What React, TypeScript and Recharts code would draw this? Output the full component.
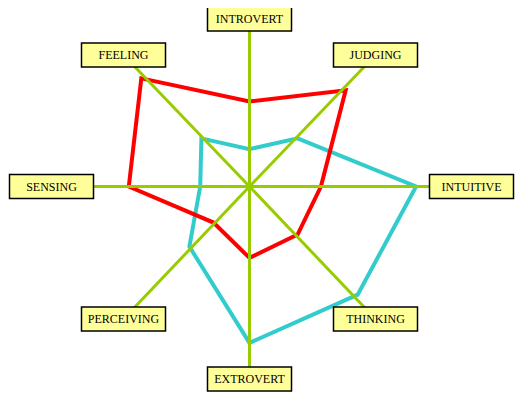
import React from 'react';
import { RadarChart, Radar, PolarAngleAxis, PolarRadiusAxis } from 'recharts';

const traits = ['INTROVERT', 'JUDGING', 'INTUITIVE', 'THINKING', 'EXTROVERT', 'PERCEIVING', 'SENSING', 'FEELING'];
const redScores = [5, 8, 4.2, 4, 4.2, 3, 7.1, 9];
const cyanScores = [2.2, 4, 9.8, 9, 9.2, 5, 2.9, 4];

const data = traits.map((t, i) => ({ trait: t, red: redScores[i], cyan: cyanScores[i] }));

const GREEN = '#99CC00';

// label box placed around the axis end, the green spoke runs to the box centre
function TraitTick(props: any) {
  const { x, y, cx, cy, payload } = props;
  const dx = x - cx;
  const dy = y - cy;
  const sx = Math.abs(dx) < 1 ? 0 : Math.sign(dx);
  const sy = Math.abs(dy) < 1 ? 0 : Math.sign(dy);
  let bx = cx;
  let by = cy;
  if (sx === 0) {
    by = cy + (sy < 0 ? -167.5 : 192.5);
  } else if (sy === 0) {
    bx = cx + (sx < 0 ? -198 : 222);
  } else {
    bx = cx + sx * 126;
    by = cy + (sy < 0 ? -131.5 : 132.5);
  }
  return (
    <g>
      <line x1={cx} y1={cy} x2={bx} y2={by} stroke={GREEN} strokeWidth={3} />
      <rect x={bx - 42} y={by - 12} width={84} height={24} fill="#FFFF99" stroke="#000" strokeWidth={1.5} />
      <text
        x={bx}
        y={by + 4}
        textAnchor="middle"
        fontFamily="'Liberation Serif', serif"
        fontSize={12}
        fill="#000"
      >
        {payload.value}
      </text>
    </g>
  );
}

export default function App() {
  return (
    <RadarChart width={509} height={385} data={data} cx={241.5} cy={178.5} outerRadius={170} margin={{ top: 0, right: 0, bottom: 0, left: 0 }}>
      <PolarAngleAxis dataKey="trait" axisLine={false} tickLine={false} tick={<TraitTick />} />
      <PolarRadiusAxis domain={[0, 10]} tick={false} axisLine={false} />
      <Radar dataKey="cyan" stroke="#33CCCC" strokeWidth={4} fill="none" dot={false} isAnimationActive={false} />
      <Radar dataKey="red" stroke="#FF0000" strokeWidth={4} fill="none" dot={false} isAnimationActive={false} />
    </RadarChart>
  );
}
